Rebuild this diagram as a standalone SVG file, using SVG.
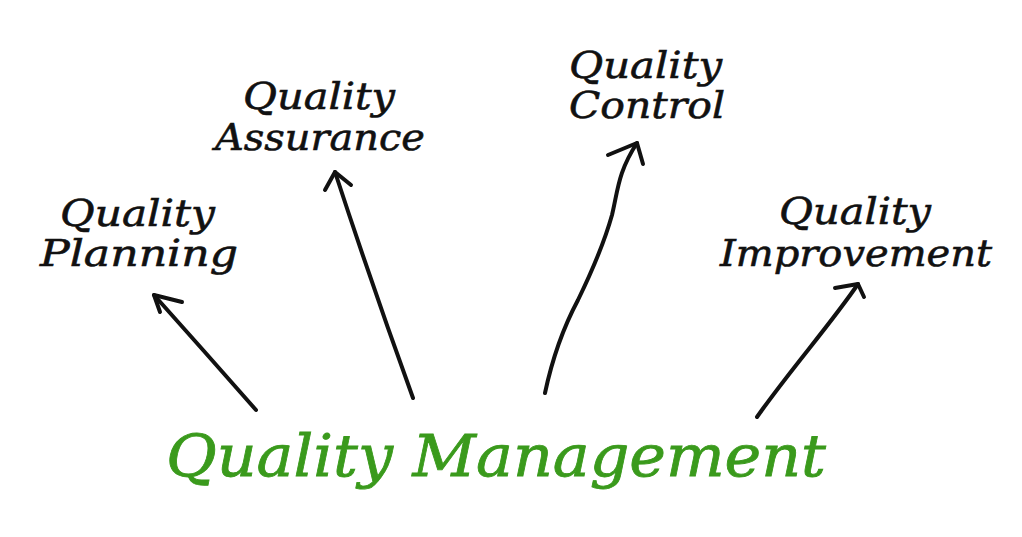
<svg xmlns="http://www.w3.org/2000/svg" width="1022" height="537" viewBox="0 0 1022 537">
<style>
.lbl{font-family:"DejaVu Serif","Liberation Serif",serif;font-style:italic;font-size:37px;fill:#111;stroke:#111;stroke-width:0.6;}
.main{font-family:"DejaVu Serif","Liberation Serif",serif;font-style:italic;font-size:58px;fill:#3a9a1c;stroke:#3a9a1c;stroke-width:0.8;}
.arr{fill:none;stroke:#111;stroke-width:4;stroke-linecap:round;stroke-linejoin:round;}
</style>
<rect width="1022" height="537" fill="#fff"/>
<g id="connectors">
<path class="arr" d="M256,410 Q205,352 154,295"/>
<path class="arr" d="M160,312 L154,295 L182,302"/>
<path class="arr" d="M413,398 Q372,285 335,172"/>
<path class="arr" d="M325,190 L335,172 L351,185"/>
<path class="arr" d="M545,393 C552,360 562,330 578,300 C595,265 605,240 612,215 C618,190 618,172 637,143"/>
<path class="arr" d="M608,155 L637,143 L643,164"/>
<path class="arr" d="M757,417 C790,370 830,325 858,284"/>
<path class="arr" d="M835,288 L858,284 L864,297"/>
</g>
<g id="planning">
<text class="lbl" x="60" y="226" textLength="155" lengthAdjust="spacingAndGlyphs">Quality</text>
<text class="lbl" x="40" y="266" textLength="198" lengthAdjust="spacingAndGlyphs">Planning</text>
</g>
<g id="assurance">
<text class="lbl" x="243" y="109" textLength="152" lengthAdjust="spacingAndGlyphs">Quality</text>
<text class="lbl" x="215" y="150" textLength="210" lengthAdjust="spacingAndGlyphs">Assurance</text>
</g>
<g id="control">
<text class="lbl" x="569" y="78" textLength="153" lengthAdjust="spacingAndGlyphs">Quality</text>
<text class="lbl" x="569" y="118" textLength="156" lengthAdjust="spacingAndGlyphs">Control</text>
</g>
<g id="improvement">
<text class="lbl" x="779" y="224" textLength="152" lengthAdjust="spacingAndGlyphs">Quality</text>
<text class="lbl" x="720" y="266" textLength="272" lengthAdjust="spacingAndGlyphs">Improvement</text>
</g>
<g id="management">
<text class="main" x="166" y="476" textLength="660" lengthAdjust="spacingAndGlyphs">Quality Management</text>
</g>
</svg>
